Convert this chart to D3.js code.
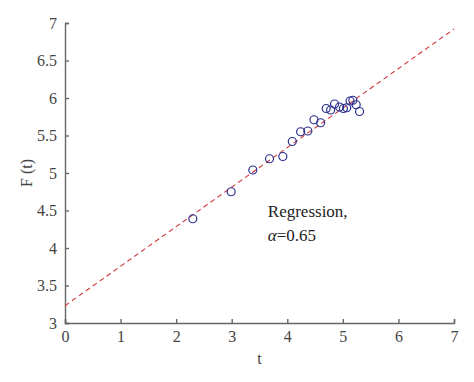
<!DOCTYPE html>
<html>
<head>
<meta charset="utf-8">
<script src="https://cdn.jsdelivr.net/npm/d3@7"></script>
<style>
  body { margin: 0; background: #fff; }
  svg text { font-family: 'Liberation Serif', 'Times New Roman', 'DejaVu Serif', serif; }
  .axis path, .axis line { stroke: #666; stroke-width: 1.4; }
</style>
</head>
<body>
<div id="chart"></div>
<script>
// measured points (t, F(t))
var tValues = [2.30, 2.99, 3.38, 3.68, 3.92, 4.09, 4.24, 4.37, 4.48, 4.60,
               4.70, 4.78, 4.85, 4.94, 5.01, 5.07, 5.13, 5.18, 5.24, 5.30];
var fValues = [4.39, 4.75, 5.04, 5.19, 5.22, 5.42, 5.55, 5.56, 5.71, 5.67,
               5.86, 5.84, 5.92, 5.88, 5.86, 5.87, 5.96, 5.97, 5.91, 5.82];
// regression line end points
var lineT = [0, 7];
var lineF = [3.23, 6.92];
var xTicks = [0, 1, 2, 3, 4, 5, 6, 7];
var yTicks = [3, 3.5, 4, 4.5, 5, 5.5, 6, 6.5, 7];

var width = 474, height = 382;
var margin = {left: 65, right: 20, top: 23, bottom: 59};
var w = width - margin.left - margin.right,
    h = height - margin.top - margin.bottom;

var svg = d3.select('#chart')
    .append('svg')
        .attr('width', width)
        .attr('height', height);

var g = svg.append('g')
    .attr('transform', 'translate(' + margin.left + ',' + margin.top + ')');

var x = d3.scaleLinear().domain([0, 7]).range([0, w]);
var y = d3.scaleLinear().domain([3, 7]).range([h, 0]);

var fmt = function(d) { return String(d); };
var axisX = d3.axisBottom(x).tickValues(xTicks).tickFormat(fmt)
    .tickSizeInner(-4).tickSizeOuter(-4).tickPadding(8);
var axisY = d3.axisLeft(y).tickValues(yTicks).tickFormat(fmt)
    .tickSizeInner(-4).tickSizeOuter(-4).tickPadding(8);

g.append('g')
    .attr('class', 'axis')
    .attr('transform', 'translate(0,' + h + ')')
    .call(axisX)
    .attr('font-family', null)
    .attr('font-size', 16)
    .selectAll('text').attr('fill', '#444');

g.append('g')
    .attr('class', 'axis')
    .call(axisY)
    .attr('font-family', null)
    .attr('font-size', 16)
    .selectAll('text').attr('fill', '#444');

// regression line
var line = d3.line()
    .x(function(d, i) { return x(lineT[i]); })
    .y(function(d) { return y(d); });

g.append('path')
    .datum(lineF)
    .attr('d', line)
    .attr('fill', 'none')
    .attr('stroke', '#d2383a')
    .attr('stroke-width', 1.1)
    .attr('stroke-dasharray', '5,3.5');

// points
g.selectAll('circle.pt')
    .data(tValues)
    .enter()
    .append('circle')
        .attr('class', 'pt')
        .attr('cx', function(d) { return x(d); })
        .attr('cy', function(d, i) { return y(fValues[i]); })
        .attr('r', 4)
        .attr('fill', 'none')
        .attr('stroke', '#2b2f8f')
        .attr('stroke-width', 1.2);

// annotation
var note = g.append('text')
    .attr('font-size', 17)
    .attr('fill', '#222');
note.append('tspan').attr('x', x(3.65)).attr('y', y(4.41)).text('Regression,');
note.append('tspan').attr('x', x(3.65)).attr('y', y(4.1)).attr('font-style', 'italic').text('α');
note.append('tspan').text('=0.65');

// axis titles
svg.append('text')
    .attr('transform', 'translate(32,' + (margin.top + y(5)) + ') rotate(-90)')
    .attr('text-anchor', 'middle')
    .attr('font-size', 16)
    .attr('fill', '#444')
    .text('F (t)');

svg.append('text')
    .attr('x', margin.left + x(3.5))
    .attr('y', 364)
    .attr('text-anchor', 'middle')
    .attr('font-size', 16)
    .attr('fill', '#444')
    .text('t');
</script>
</body>
</html>
